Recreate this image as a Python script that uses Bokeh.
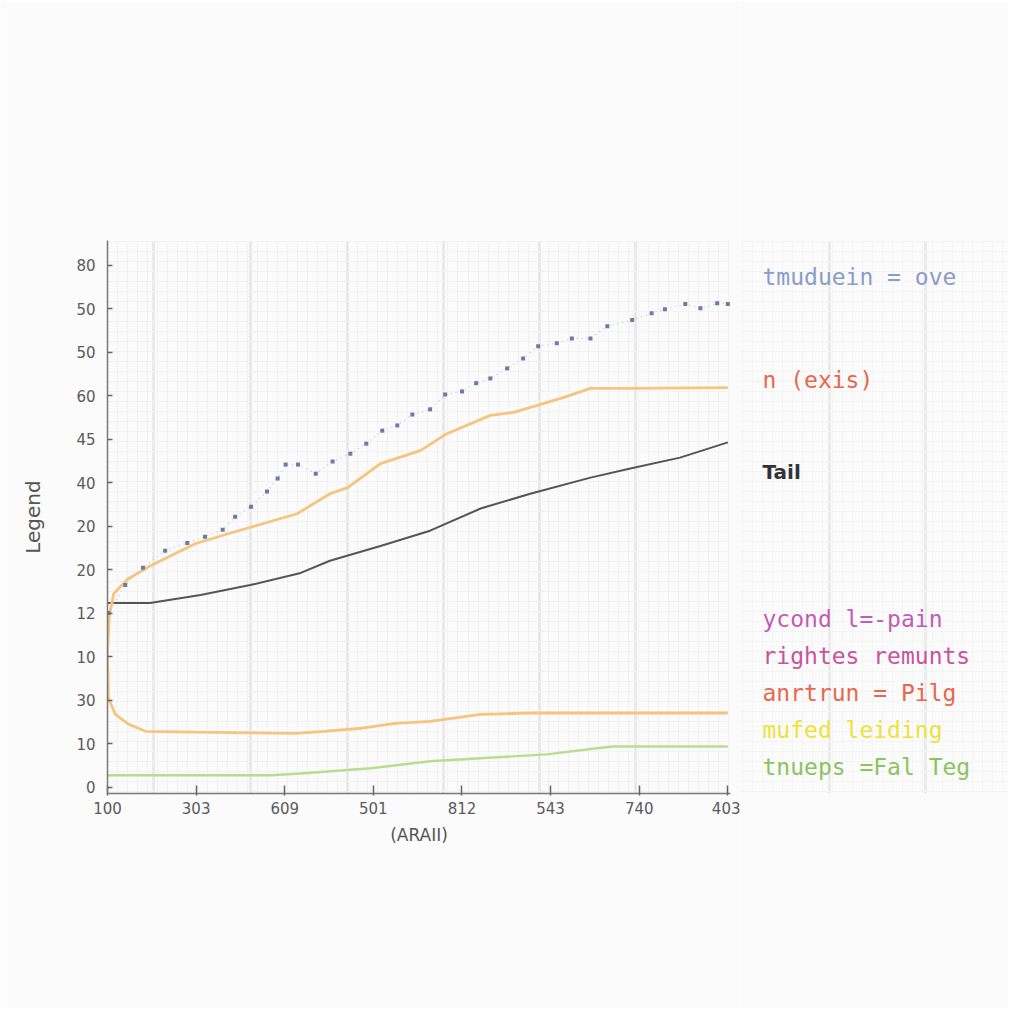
import numpy as np
from bokeh.plotting import figure
from bokeh.layouts import row
from bokeh.models import Range1d, FixedTicker, Label
from bokeh.embed import file_html
from bokeh.resources import INLINE

# tick labels as printed on the chart (positions are just 0..n-1)
x_labels = ["100", "303", "609", "501", "812", "543", "740", "403"]
y_labels = ["0", "10", "30", "10", "12", "20", "20", "40", "45", "60", "50", "50", "80"]

# dotted blue series (markers)
blue_x = [0.01, 0.20, 0.40, 0.65, 0.90, 1.10, 1.30, 1.44, 1.62, 1.80, 1.92, 2.01, 2.15,
          2.35, 2.54, 2.74, 2.92, 3.10, 3.27, 3.44, 3.64, 3.81, 4.00, 4.16, 4.32, 4.51,
          4.69, 4.86, 5.07, 5.24, 5.45, 5.64, 5.92, 6.14, 6.29, 6.52, 6.69, 6.88, 7.00]
blue_y = [4.01, 4.65, 5.05, 5.44, 5.62, 5.76, 5.92, 6.22, 6.45, 6.80, 7.10, 7.42, 7.42,
          7.21, 7.49, 7.67, 7.90, 8.20, 8.32, 8.57, 8.69, 9.03, 9.10, 9.29, 9.40, 9.63,
          9.86, 10.14, 10.21, 10.32, 10.32, 10.60, 10.74, 10.90, 10.99, 11.11, 11.01, 11.13, 11.11]

# orange curve, upper branch then lower branch (joined at the left)
orange_up_x = [0.0, 0.02, 0.07, 0.23, 0.48, 0.99, 1.36, 1.75, 2.14, 2.51, 2.71, 3.08,
               3.53, 3.83, 4.32, 4.58, 4.85, 5.14, 5.45, 5.90, 7.00]
orange_up_y = [3.13, 3.94, 4.45, 4.79, 5.09, 5.60, 5.83, 6.06, 6.29, 6.75, 6.89, 7.44,
               7.74, 8.13, 8.55, 8.62, 8.78, 8.96, 9.17, 9.17, 9.19]
orange_lo_x = [0.0, 0.01, 0.09, 0.24, 0.43, 0.99, 2.12, 2.44, 2.87, 3.25, 3.64, 4.21,
               4.77, 5.70, 7.00]
orange_lo_y = [3.13, 2.05, 1.68, 1.45, 1.29, 1.27, 1.24, 1.29, 1.36, 1.47, 1.52, 1.68,
               1.71, 1.71, 1.71]

# dark "Tail" line
tail_x = [0.0, 0.48, 1.05, 1.61, 2.18, 2.51, 3.08, 3.64, 4.21, 4.77, 5.45, 5.90, 6.46, 7.00]
tail_y = [4.24, 4.24, 4.42, 4.65, 4.93, 5.21, 5.55, 5.90, 6.41, 6.75, 7.12, 7.33, 7.58, 7.93]

# green line
green_x = [0.0, 1.84, 2.18, 2.97, 3.64, 4.21, 4.96, 5.52, 5.70, 7.00]
green_y = [0.28, 0.28, 0.32, 0.44, 0.60, 0.67, 0.76, 0.90, 0.94, 0.94]

# series names written at the right
series_labels = ["tmuduein = ove", "n (exis)", "Tail", "ycond l=-pain",
                 "rightes remunts", "anrtrun = Pilg", "mufed leiding", "tnueps =Fal Teg"]
label_colors = ["#8a9cc8", "#e8674e", "#333333", "#c25cb4",
                "#c8549e", "#e8674e", "#ece23c", "#8cc35e"]
label_y = [11.72, 9.36, 7.26, 3.86, 3.03, 2.16, 1.31, 0.46]

BG = "#fbfbfb"
y_minor = list(np.arange(-0.1, 12.6, 0.23))

p = figure(frame_width=623, frame_height=553,
           min_border_left=107, min_border_right=10, min_border_top=240, min_border_bottom=215,
           x_range=Range1d(0, 7.03), y_range=Range1d(-0.14, 12.57),
           output_backend="svg", toolbar_location=None,
           background_fill_color=BG, border_fill_color=BG)
p.outline_line_color = None

# faint squared paper inside the frame
p.xgrid.ticker = FixedTicker(ticks=[0.52, 1.61, 2.71, 3.79, 4.88, 5.96],
                             minor_ticks=list(np.arange(0, 7.1, 0.113)))
p.ygrid.ticker = FixedTicker(ticks=[], minor_ticks=y_minor)
p.xgrid.grid_line_color = "#e6e6e6"
p.xgrid.grid_line_width = 2.5
p.xgrid.minor_grid_line_color = "#f2f2f2"
p.ygrid.minor_grid_line_color = "#f2f2f2"

p.xaxis.ticker = FixedTicker(ticks=list(range(len(x_labels))))
p.xaxis.major_label_overrides = {i: s for i, s in enumerate(x_labels)}
p.yaxis.ticker = FixedTicker(ticks=list(range(len(y_labels))))
p.yaxis.major_label_overrides = {i: s for i, s in enumerate(y_labels)}

for ax in (p.xaxis[0], p.yaxis[0]):
    ax.axis_line_color = "#7a7a7a"
    ax.axis_line_width = 1.5
    ax.major_tick_line_color = "#666666"
    ax.major_tick_line_width = 1.5
    ax.minor_tick_line_color = None
    ax.major_label_text_font = "DejaVu Sans"
    ax.major_label_text_font_size = "15px"
    ax.major_label_text_color = "#5a5a5a"
    ax.axis_label_text_font = "DejaVu Sans"
    ax.axis_label_text_font_style = "normal"
    ax.axis_label_text_color = "#555555"
p.xaxis.major_tick_in = 8
p.xaxis.major_tick_out = 2
p.yaxis.major_tick_in = 5
p.yaxis.major_tick_out = 0
p.yaxis.major_label_standoff = 12
p.xaxis.major_label_standoff = 6
p.xaxis.axis_label = "(ARAII)"
p.xaxis.axis_label_text_font_size = "17px"
p.xaxis.axis_label_standoff = 8
p.yaxis.axis_label = "Legend"
p.yaxis.axis_label_text_font_size = "20px"
p.yaxis.axis_label_standoff = 28

p.line(green_x, green_y, line_color="#b9dc8e", line_width=2.4)
p.line(tail_x, tail_y, line_color="#555555", line_width=2)
p.line(orange_lo_x, orange_lo_y, line_color="#f6c47c", line_width=2.8)
p.line(orange_up_x, orange_up_y, line_color="#f6c47c", line_width=2.8)
p.line(blue_x, blue_y, line_color="#b3c2e4", line_width=1.2, line_dash="1 4")
p.scatter(blue_x, blue_y, marker="square", size=4, fill_color="#6b7aab", line_color=None)

# panel on the right holding the series names, same y scale
side = figure(frame_width=268, frame_height=553,
              min_border_left=0, min_border_right=0, min_border_top=240, min_border_bottom=215,
              x_range=Range1d(0, 268), y_range=p.y_range,
              output_backend="svg", toolbar_location=None,
              background_fill_color=BG, border_fill_color=BG)
side.outline_line_color = None
side.axis.visible = False
side.xgrid.ticker = FixedTicker(ticks=[89, 185], minor_ticks=list(np.arange(2, 268, 10)))
side.ygrid.ticker = FixedTicker(ticks=[], minor_ticks=y_minor)
side.xgrid.grid_line_color = "#e9e9e9"
side.xgrid.grid_line_width = 2.5
side.xgrid.minor_grid_line_color = "#f4f4f4"
side.ygrid.minor_grid_line_color = "#f4f4f4"

for name, col, yy in zip(series_labels, label_colors, label_y):
    is_tail = name == "Tail"
    side.add_layout(Label(x=22, y=yy, text=name, text_color=col, text_baseline="middle",
                          text_font="DejaVu Sans" if is_tail else "DejaVu Sans Mono",
                          text_font_size="20px" if is_tail else "23px",
                          text_font_style="bold" if is_tail else "normal"))

layout = row(p, side, spacing=0)
open("out.html", "w").write(file_html(layout, INLINE))
